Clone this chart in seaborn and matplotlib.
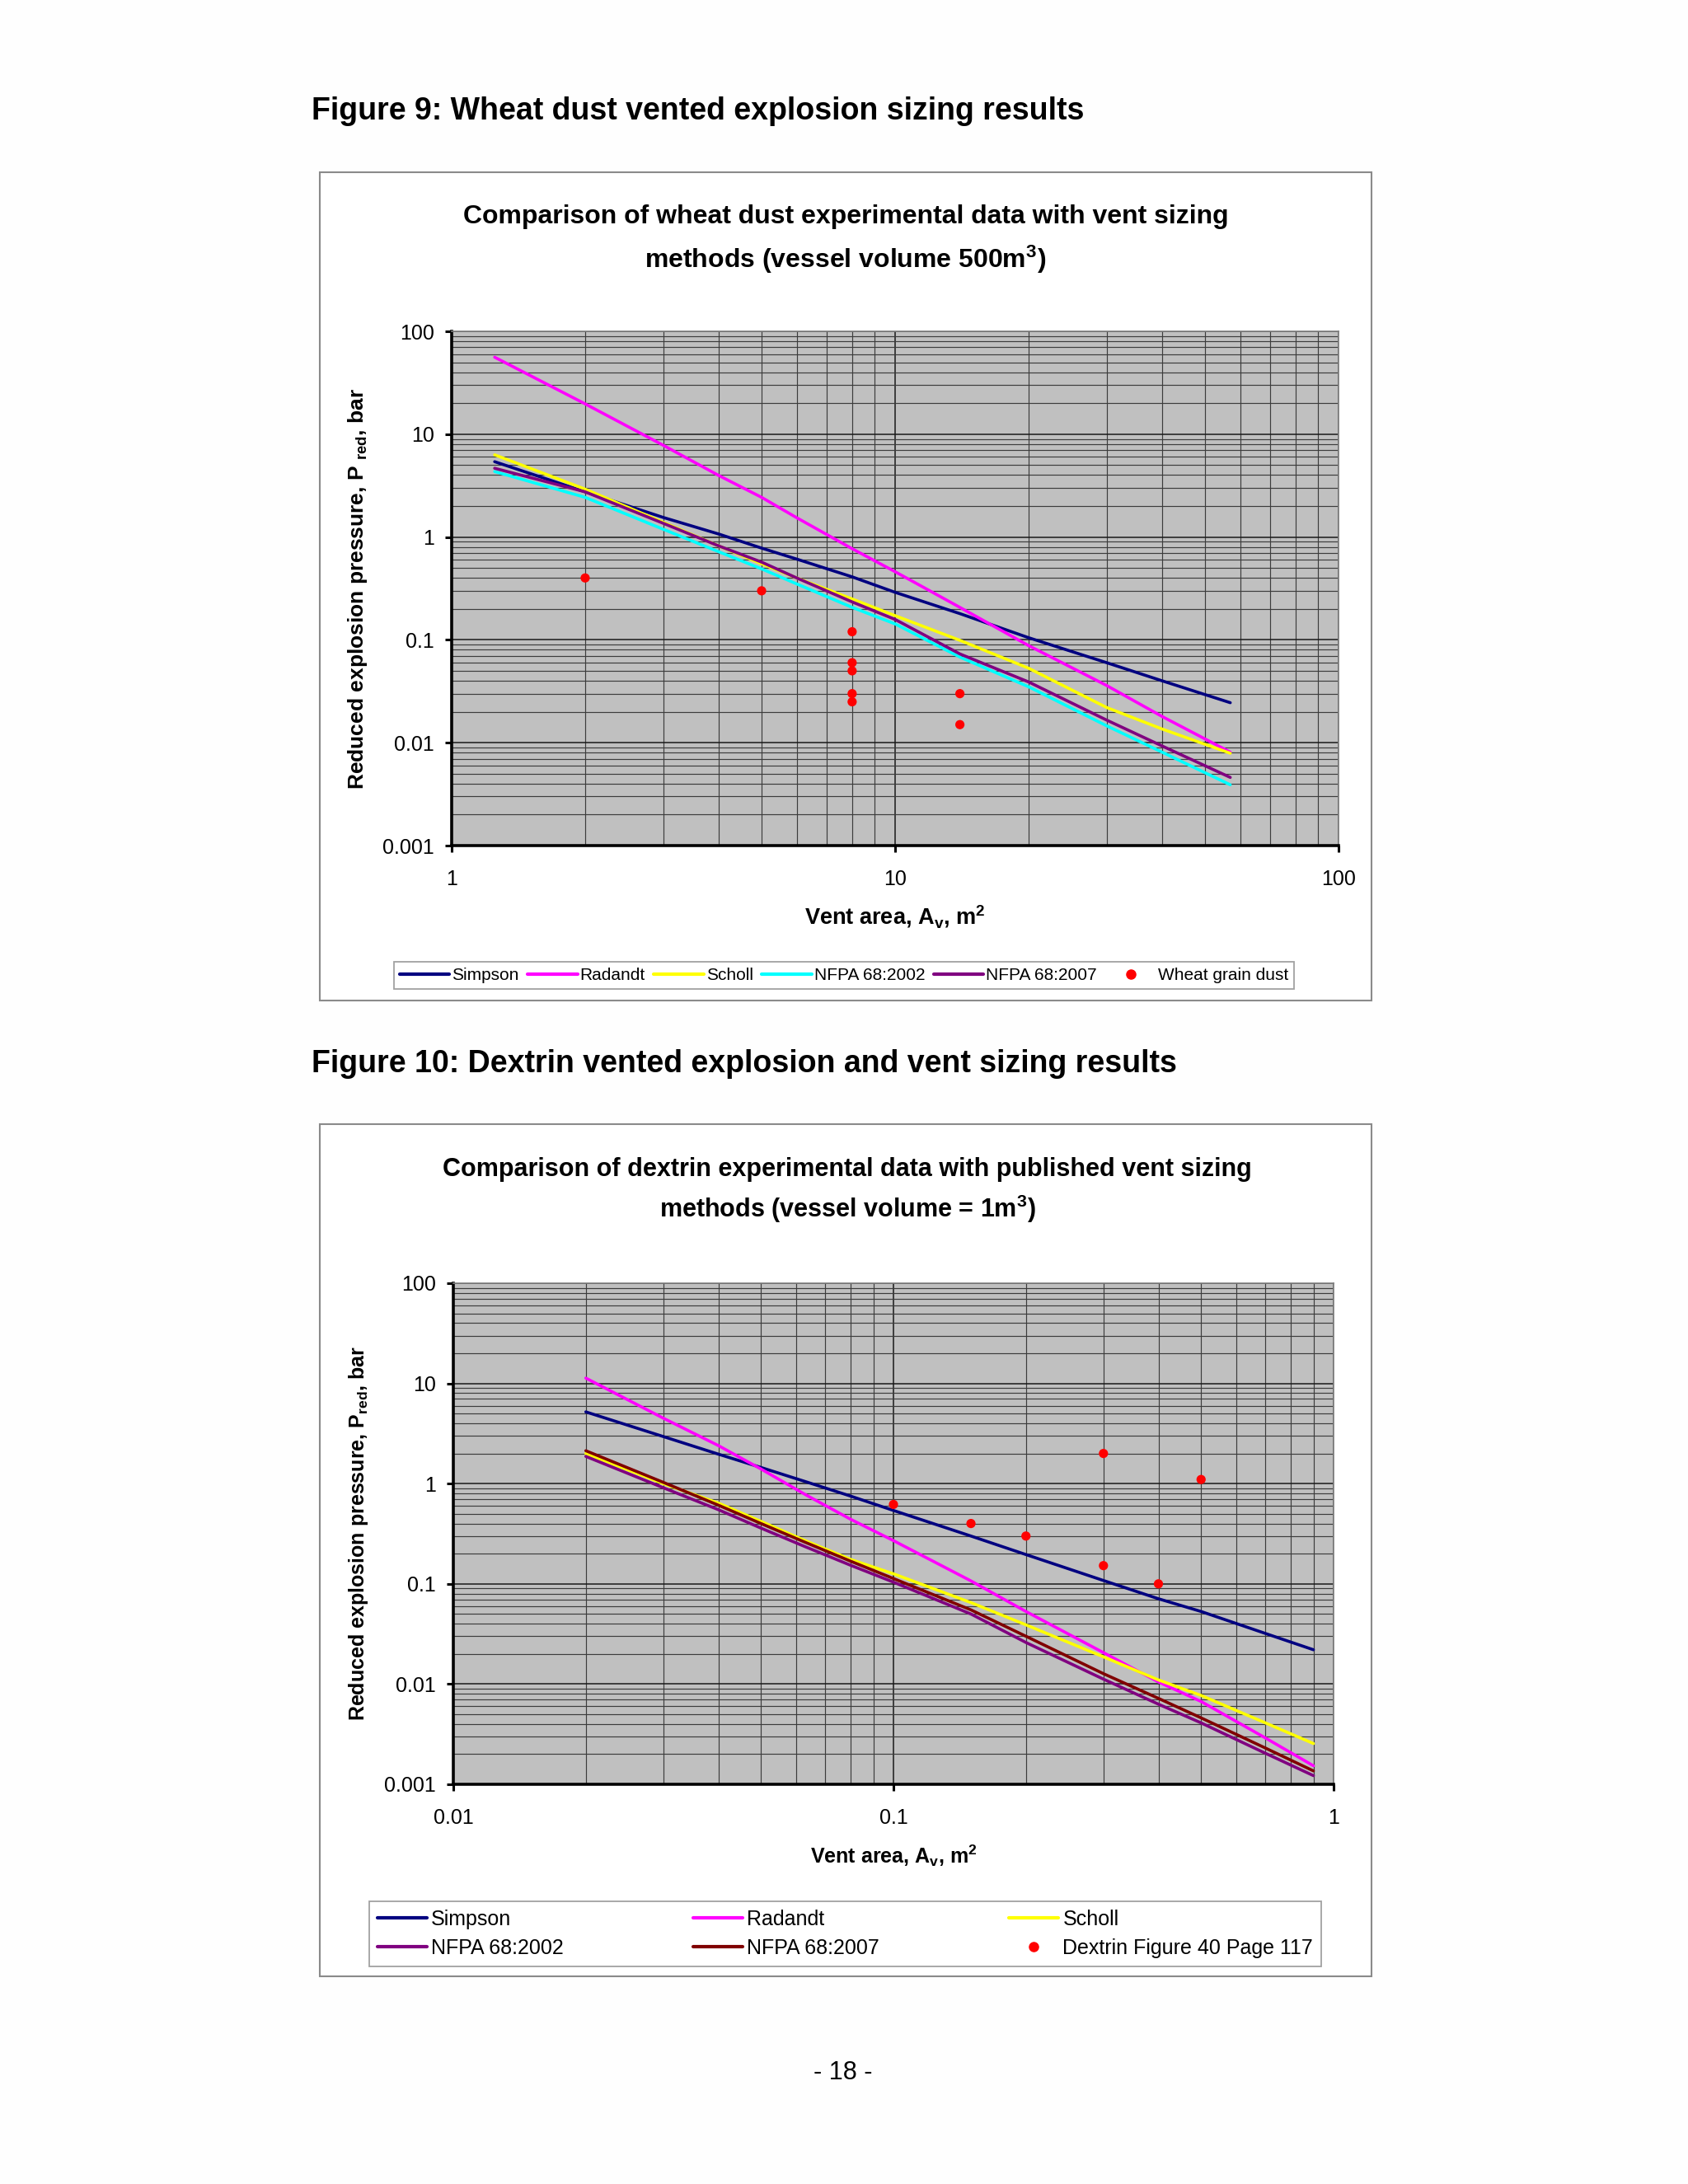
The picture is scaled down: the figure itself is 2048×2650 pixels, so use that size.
import numpy as np
import pandas as pd
import matplotlib
matplotlib.use("Agg")
import matplotlib.pyplot as plt
from matplotlib.lines import Line2D
from matplotlib.patches import Rectangle
from matplotlib.ticker import LogLocator, FixedLocator, FixedFormatter, NullFormatter
import seaborn as sns

# ---------------- data: Figure 9 (wheat dust, 500 m3) ----------------
wheat_area = [1.25, 2, 3, 4, 5, 6, 8, 10, 14, 20, 30, 40, 57]
wheat_simpson = [5.4, 2.75, 1.55, 1.07, 0.78, 0.61, 0.41, 0.29, 0.18, 0.105, 0.060, 0.040, 0.0245]
wheat_radandt = [56, 19.7, 7.8, 3.97, 2.43, 1.54, 0.77, 0.46, 0.207, 0.088, 0.036, 0.018, 0.0081]
wheat_scholl = [6.3, 2.92, 1.39, 0.82, 0.55, 0.40, 0.25, 0.172, 0.099, 0.053, 0.022, 0.0136, 0.0079]
wheat_nfpa2002 = [4.33, 2.43, 1.19, 0.72, 0.49, 0.35, 0.207, 0.143, 0.068, 0.035, 0.0146, 0.0081, 0.0039]
wheat_nfpa2007 = [4.66, 2.75, 1.36, 0.82, 0.57, 0.40, 0.234, 0.158, 0.073, 0.039, 0.0166, 0.0093, 0.0046]
wheat_exp_area = [2, 5, 8, 8, 8, 8, 8, 14, 14]
wheat_exp_p = [0.4, 0.3, 0.12, 0.06, 0.05, 0.03, 0.025, 0.03, 0.015]

# ---------------- data: Figure 10 (dextrin, 1 m3) ----------------
dex_area = [0.02, 0.03, 0.04, 0.05, 0.063, 0.08, 0.1, 0.15, 0.2, 0.3, 0.4, 0.5, 0.7, 0.9]
dex_simpson = [5.2, 2.95, 1.97, 1.45, 1.05, 0.75, 0.54, 0.30, 0.196, 0.108, 0.071, 0.053, 0.032, 0.022]
dex_radandt = [11.3, 4.5, 2.4, 1.4, 0.78, 0.44, 0.27, 0.107, 0.053, 0.0206, 0.0105, 0.0067, 0.0029, 0.00153]
dex_scholl = [2.0, 1.0, 0.64, 0.42, 0.27, 0.175, 0.126, 0.065, 0.039, 0.0187, 0.011, 0.0077, 0.0041, 0.00255]
dex_nfpa2002 = [1.87, 0.91, 0.55, 0.36, 0.235, 0.153, 0.104, 0.05, 0.026, 0.0112, 0.0063, 0.0041, 0.00204, 0.00122]
dex_nfpa2007 = [2.13, 1.03, 0.61, 0.40, 0.26, 0.168, 0.113, 0.055, 0.030, 0.0127, 0.0072, 0.0046, 0.0023, 0.00136]
dex_exp_area = [0.1, 0.15, 0.2, 0.3, 0.3, 0.4, 0.5]
dex_exp_p = [0.62, 0.40, 0.30, 2.0, 0.152, 0.10, 1.1]

y_ticks = [0.001, 0.01, 0.1, 1, 10, 100]
y_ticklabels = ["0.001", "0.01", "0.1", "1", "10", "100"]
top_xticks = [1, 10, 100]
top_xticklabels = ["1", "10", "100"]
bot_xticks = [0.01, 0.1, 1]
bot_xticklabels = ["0.01", "0.1", "1"]

# ---------------- style ----------------
sns.set_theme(style="white")
plt.rcParams["font.family"] = ["Liberation Sans", "DejaVu Sans"]
plt.rcParams["mathtext.fontset"] = "custom"
plt.rcParams["mathtext.rm"] = "Liberation Sans"
plt.rcParams["mathtext.bf"] = "Liberation Sans:bold"
plt.rcParams["mathtext.it"] = "Liberation Sans:italic"
plt.rcParams["text.color"] = "black"
plt.rcParams["xtick.color"] = "black"
plt.rcParams["ytick.color"] = "black"
plt.rcParams["axes.labelcolor"] = "black"

W, H = 2048, 2650
fig = plt.figure(figsize=(W / 100, H / 100), dpi=100)
fig.patch.set_facecolor("#fefefe")


def fx(px):
    return px / W


def fy(py):
    return 1 - py / H


PLOT_BG = "#c0c0c0"


def style_axes(ax, xticks, xticklabels):
    ax.set_xscale("log")
    ax.set_yscale("log")
    ax.set_facecolor(PLOT_BG)
    ax.set_ylim(0.001, 100)
    ax.set_xlim(xticks[0], xticks[-1])
    ax.yaxis.set_major_locator(FixedLocator(y_ticks))
    ax.yaxis.set_major_formatter(FixedFormatter(y_ticklabels))
    ax.yaxis.set_minor_locator(LogLocator(base=10, subs=np.arange(2, 10), numticks=20))
    ax.yaxis.set_minor_formatter(NullFormatter())
    ax.xaxis.set_major_locator(FixedLocator(xticks))
    ax.xaxis.set_major_formatter(FixedFormatter(xticklabels))
    ax.xaxis.set_minor_locator(LogLocator(base=10, subs=np.arange(2, 10), numticks=20))
    ax.xaxis.set_minor_formatter(NullFormatter())
    ax.grid(which="major", color="#1a1a1a", linewidth=1.1)
    ax.grid(which="minor", color="#3c3c3c", linewidth=0.85)
    ax.set_axisbelow(True)
    for s in ["left", "bottom"]:
        ax.spines[s].set_color("black")
        ax.spines[s].set_linewidth(2.6)
    for s in ["top", "right"]:
        ax.spines[s].set_color("#808080")
        ax.spines[s].set_linewidth(1.2)
    ax.tick_params(axis="both", which="major", direction="out", length=6,
                   width=2.2, color="black", labelsize=18, left=True, bottom=True)
    ax.tick_params(axis="y", which="major", pad=9)
    ax.tick_params(axis="x", which="major", pad=15)
    ax.tick_params(axis="both", which="minor", length=0)


def draw_series(ax, x, series, palette, exp_x, exp_y):
    rows = []
    for name, vals in series:
        for xi, yi in zip(x, vals):
            rows.append({"area": xi, "p": yi, "method": name})
    df = pd.DataFrame(rows)
    sns.lineplot(data=df, x="area", y="p", hue="method", palette=palette,
                 estimator=None, sort=False, linewidth=2.6, legend=False, ax=ax,
                 zorder=3)
    dfe = pd.DataFrame({"area": exp_x, "p": exp_y})
    sns.scatterplot(data=dfe, x="area", y="p", color="#ff0000", s=65,
                    edgecolor="none", ax=ax, zorder=4, legend=False)
    ax.set_xlabel("")
    ax.set_ylabel("")


# outer chart boxes (drawn behind the axes)
for (x0, y0, x1, y1) in [(388, 209, 1664, 1214), (388, 1364, 1664, 2398)]:
    fig.patches.append(Rectangle((fx(x0), fy(y1)), fx(x1) - fx(x0), fy(y0) - fy(y1),
                                 transform=fig.transFigure, facecolor="white",
                                 edgecolor="#8a8a8a", linewidth=1.5, zorder=-10))

# ---------------- Figure 9 ----------------
fig.text(fx(378), fy(135), "Figure 9: Wheat dust vented explosion sizing results",
         fontsize=27, fontweight="bold", ha="left", va="center")

ax1 = fig.add_axes([fx(548), fy(1026), fx(1624) - fx(548), fy(402) - fy(1026)])
pal1 = {"Simpson": "#000080", "Radandt": "#ff00ff", "Scholl": "#ffff00",
        "NFPA 68:2002": "#00ffff", "NFPA 68:2007": "#800080"}
draw_series(ax1, wheat_area,
            [("Simpson", wheat_simpson), ("Radandt", wheat_radandt), ("Scholl", wheat_scholl),
             ("NFPA 68:2002", wheat_nfpa2002), ("NFPA 68:2007", wheat_nfpa2007)],
            pal1, wheat_exp_area, wheat_exp_p)
style_axes(ax1, top_xticks, top_xticklabels)
ax1.set_xlabel(r"Vent area, A$_{\mathbf{v}}$, m$^{\mathbf{2}}$", fontsize=19.5,
               fontweight="bold", va="center")
ax1.xaxis.set_label_coords(0.5, -0.138)
ax1.set_ylabel(r"Reduced explosion pressure, P $_{\mathbf{red}}$, bar", fontsize=19,
               fontweight="bold", va="center")
ax1.yaxis.set_label_coords(-0.106, 0.5)

fig.text(fx(1026), fy(291), "Comparison of wheat dust experimental data with vent sizing\n"
         r"methods (vessel volume 500m$^{\mathbf{3}}$)",
         fontsize=23, fontweight="bold", ha="center", va="center", linespacing=1.6)

h1 = [Line2D([], [], color=c, lw=3) for c in pal1.values()]
h1.append(Line2D([], [], color="#ff0000", marker="o", ls="none", markersize=8))
lab1 = list(pal1.keys()) + ["Wheat grain dust"]
leg1 = fig.legend(h1, lab1, loc="center", bbox_to_anchor=(fx(1024), fy(1183.5)),
                  ncol=6, fontsize=15, frameon=True, fancybox=False,
                  handlelength=2.9, handletextpad=0.15, columnspacing=0.5,
                  borderpad=0.35, borderaxespad=0)
leg1.get_frame().set_edgecolor("#8a8a8a")
leg1.get_frame().set_linewidth(1.3)
leg1.get_frame().set_facecolor("white")

# ---------------- Figure 10 ----------------
fig.text(fx(378), fy(1291), "Figure 10: Dextrin vented explosion and vent sizing results",
         fontsize=27, fontweight="bold", ha="left", va="center")

ax2 = fig.add_axes([fx(550), fy(2165), fx(1618) - fx(550), fy(1557) - fy(2165)])
pal2 = {"Simpson": "#000080", "Radandt": "#ff00ff", "Scholl": "#ffff00",
        "NFPA 68:2002": "#800080", "NFPA 68:2007": "#800000"}
draw_series(ax2, dex_area,
            [("Simpson", dex_simpson), ("Radandt", dex_radandt), ("Scholl", dex_scholl),
             ("NFPA 68:2002", dex_nfpa2002), ("NFPA 68:2007", dex_nfpa2007)],
            pal2, dex_exp_area, dex_exp_p)
style_axes(ax2, bot_xticks, bot_xticklabels)
ax2.set_xlabel(r"Vent area, A$_{\mathbf{v}}$, m$^{\mathbf{2}}$", fontsize=18,
               fontweight="bold", va="center")
ax2.xaxis.set_label_coords(0.5, -0.142)
ax2.set_ylabel(r"Reduced explosion pressure, P$_{\mathbf{red}}$, bar", fontsize=18,
               fontweight="bold", va="center")
ax2.yaxis.set_label_coords(-0.108, 0.5)

fig.text(fx(1028), fy(1445), "Comparison of dextrin experimental data with published vent sizing\n"
         r"methods (vessel volume = 1m$^{\mathbf{3}}$)",
         fontsize=22, fontweight="bold", ha="center", va="center", linespacing=1.5)

names2 = list(pal2.keys())
h2 = {n: Line2D([], [], color=pal2[n], lw=3) for n in names2}
h2["Dextrin Figure 40 Page 117"] = Line2D([], [], color="#ff0000", marker="o", ls="none", markersize=8)
order2 = ["Simpson", "NFPA 68:2002", "Radandt", "NFPA 68:2007", "Scholl", "Dextrin Figure 40 Page 117"]
leg2 = fig.legend([h2[n] for n in order2], order2, loc="center",
                  bbox_to_anchor=(fx(1025.5), fy(2346.5)), ncol=3, fontsize=18,
                  frameon=True, fancybox=False, handlelength=2.4, handletextpad=0.2,
                  columnspacing=6.3, labelspacing=0.45, borderpad=0.4, borderaxespad=0)
leg2.get_frame().set_edgecolor("#8a8a8a")
leg2.get_frame().set_linewidth(1.3)
leg2.get_frame().set_facecolor("white")

fig.text(fx(1023), fy(2515), "- 18 -", fontsize=22, ha="center", va="center")

fig.savefig("out.png", dpi=100, facecolor=fig.get_facecolor())
